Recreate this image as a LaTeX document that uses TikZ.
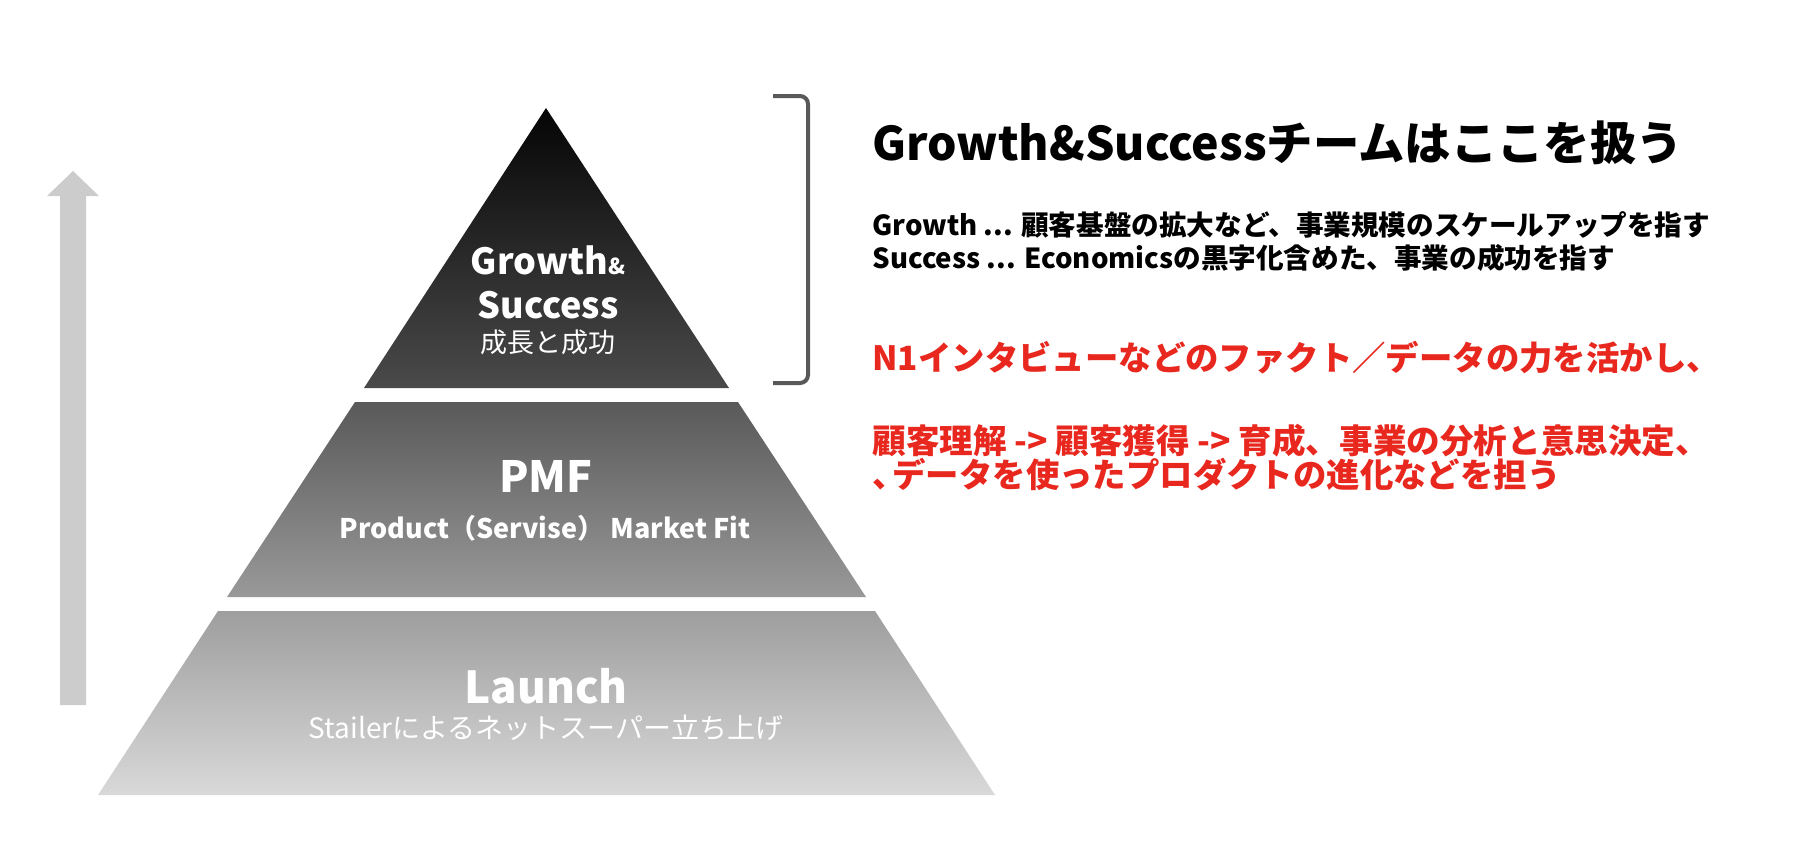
\documentclass[tikz,border=0pt]{standalone}
\usepackage{fontspec}
\setmainfont{Noto Sans CJK JP}
\definecolor{accent}{HTML}{E8281E}
\definecolor{arrowgray}{HTML}{CCCCCC}
\definecolor{bracketgray}{HTML}{595959}
\tikzset{
  lbl/.style={inner sep=0pt, text=white, align=center},
  rtxt/.style={inner sep=0pt, anchor=west},
}
\newcommand{\fs}[1]{\fontsize{#1}{#1}\selectfont}
\begin{document}
\begin{tikzpicture}[x=0.5pt, y=-0.5pt]
\useasboundingbox (0,0) rectangle (1800,848);
% pyramid
\shade[top color=black!98, bottom color=black!71] (546,108) -- (729,388) -- (364,388) -- cycle;
\shade[top color=black!65, bottom color=black!40] (355,402) -- (738,402) -- (866,597) -- (227,597) -- cycle;
\shade[top color=black!38, bottom color=black!15] (218,611) -- (875,611) -- (995,795) -- (98,795) -- cycle;
% arrow
\fill[arrowgray] (60,705) -- (60,196) -- (47,196) -- (73,171) -- (99,196) -- (86,196) -- (86,705) -- cycle;
% bracket
\coordinate (bt) at (773,96);
\coordinate (bb) at (773,383);
\draw[bracketgray, line width=2pt, rounded corners=4pt] (bt) -- (808,96) -- (808,383) -- (bb);
% pyramid labels
\node[lbl, font=\bfseries\fs{18}] (g1) at (548,260) {Growth{\fs{11}\&}};
\node[lbl, font=\bfseries\fs{18}] (g2) at (548,305) {Success};
\node[lbl, font=\fs{13.5}] (g3) at (548,342) {成長と成功};
\node[lbl, font=\bfseries\fs{21.5}] (p1) at (546,476) {PMF};
\node[lbl, font=\bfseries\fs{13.5}] (p2) at (545,528) {Product（Servise） Market Fit};
\node[lbl, font=\bfseries\fs{22}] (l1) at (546,686) {Launch};
\node[lbl, font=\fs{14}] (l2) at (546,728) {Stailerによるネットスーパー立ち上げ};
% right texts
\node[rtxt, font=\bfseries\fs{23.2}] (t1) at (872,143) {Growth\&Successチームはここを扱う};
\node[rtxt, font=\bfseries\fs{13.8}] (t2) at (872,225) {Growth ... 顧客基盤の拡大など、事業規模のスケールアップを指す};
\node[rtxt, font=\bfseries\fs{13.8}] (t3) at (872,258) {Success ... Economicsの黒字化含めた、事業の成功を指す};
\node[rtxt, font=\bfseries\fs{16.7}, text=accent] (r1) at (872,358) {N1インタビューなどのファクト／データの力を活かし、};
\node[rtxt, font=\bfseries\fs{16.8}, text=accent] (r2) at (872,441) {顧客理解 -> 顧客獲得 -> 育成、事業の分析と意思決定、};
\node[rtxt, font=\bfseries\fs{16.7}, text=accent] (r3) at (872,475) {、\kern-0.4emデータを使ったプロダクトの進化などを担う};
\end{tikzpicture}
\end{document}
